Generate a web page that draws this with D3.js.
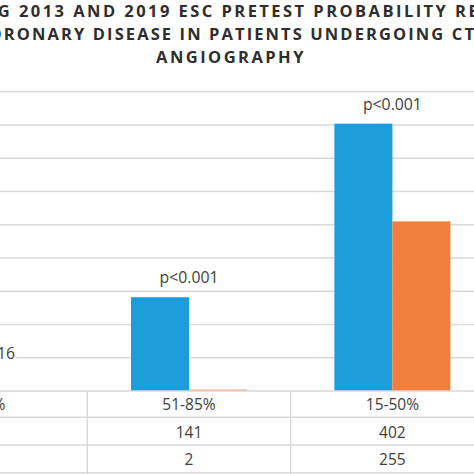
<!DOCTYPE html>
<html>
<head>
<meta charset="utf-8">
<script src="https://cdn.jsdelivr.net/npm/d3@7"></script>
<style>
  html, body { margin: 0; padding: 0; background: #fff; overflow: hidden; }
  svg { display: block; }
</style>
</head>
<body>
<svg id="chart" width="474" height="474"></svg>
<script>
// ---- data ----
const categories = [">85%", "51-85%", "15-50%", "<15%"];
const seriesNames = ["ESC 2013", "ESC 2019"];
const esc2013 = [27, 141, 402, 31];
const esc2019 = [0, 2, 255, 318];
const pLabels = ["p=0.016", "p<0.001", "p<0.001", "p<0.001"];
const yTicks = [0, 50, 100, 150, 200, 250, 300, 350, 400, 450];
const titleLines = [
  "COMPARING 2013 AND 2019 ESC PRETEST PROBABILITY REGARDING",
  "CORONARY DISEASE IN PATIENTS UNDERGOING CT",
  "ANGIOGRAPHY"
];

const colors = ["#1c9cd8", "#f07f3d"];
const svg = d3.select("#chart");

const x0 = d3.scaleBand().domain(categories).range([-116.1, 697.5]).paddingInner(0).paddingOuter(0);
const x1 = d3.scaleBand().domain(seriesNames).range([0, x0.bandwidth()]).paddingInner(0).paddingOuter(0.753);
const y = d3.scaleLinear().domain([0, 450]).range([391, 91.7]);

// gridlines
svg.append("g").selectAll("line").data(yTicks.slice(1)).join("line")
  .attr("x1", 0).attr("x2", 474)
  .attr("y1", d => y(d)).attr("y2", d => y(d))
  .attr("stroke", "#d9d9d9").attr("stroke-width", 1.4);

// bars
const groups = svg.append("g").selectAll("g").data(categories).join("g")
  .attr("transform", d => `translate(${x0(d)},0)`);
groups.selectAll("rect").data((d, i) => [
  {s: seriesNames[0], v: esc2013[i], c: colors[0]},
  {s: seriesNames[1], v: esc2019[i], c: colors[1]}
]).join("rect")
  .attr("x", d => x1(d.s)).attr("width", x1.bandwidth())
  .attr("y", d => y(d.v)).attr("height", d => y(0) - y(d.v))
  .attr("fill", d => d.c);

// p labels
const labelFont = "'Open Sans', 'Noto Sans', sans-serif";
categories.forEach((c, i) => {
  const cx = x0(c) + x0.bandwidth() / 2;
  const top = y(Math.max(esc2013[i], esc2019[i]));
  const by = top - 14;
  const t = svg.append("text")
    .attr("x", cx).attr("y", by)
    .attr("text-anchor", "middle")
    .attr("font-family", labelFont).attr("font-size", 15.8)
    .attr("fill", "#404040").text(pLabels[i]);
  const bb = t.node().getBBox();
  svg.insert("rect", "text").attr("x", bb.x - 1).attr("y", bb.y).attr("width", bb.width + 2).attr("height", bb.height).attr("fill", "#fff");
});

// data table
const rowLines = [391, 417.3, 445, 472.7];
const tbl = svg.append("g");
tbl.selectAll("line.h").data(rowLines).join("line")
  .attr("x1", 0).attr("x2", 474).attr("y1", d => d).attr("y2", d => d)
  .attr("stroke", "#d9d9d9").attr("stroke-width", 1.4);
const bounds = categories.map(c => x0(c)).concat([x0(categories[categories.length-1]) + x0.bandwidth()]);
tbl.selectAll("line.v").data(bounds).join("line")
  .attr("x1", d => d).attr("x2", d => d).attr("y1", 391).attr("y2", 474)
  .attr("stroke", "#d9d9d9").attr("stroke-width", 1.4);
const rows = [categories, esc2013, esc2019];
const rowBase = [410, 437.8, 465.3];
rows.forEach((r, ri) => {
  tbl.selectAll(null).data(r).join("text")
    .attr("x", (d, i) => x0(categories[i]) + x0.bandwidth() / 2)
    .attr("y", rowBase[ri])
    .attr("text-anchor", "middle")
    .attr("font-family", labelFont).attr("font-size", 15.5)
    .attr("fill", "#404040").text(d => d);
});

// title
const titleBase = [16.7, 39.5, 62.7];
const titleX = [231, 226, 231];
const titleSpacing = [2.45, 2.1, 2.45];
titleLines.forEach((t, i) => {
  svg.append("text").attr("x", titleX[i]).attr("y", titleBase[i])
    .attr("text-anchor", "middle")
    .attr("font-family", labelFont).attr("font-weight", "bold")
    .attr("font-size", 16.5).attr("letter-spacing", titleSpacing[i] + "px")
    .attr("fill", "#2e2e2e").text(t);
});
</script>
</body>
</html>
